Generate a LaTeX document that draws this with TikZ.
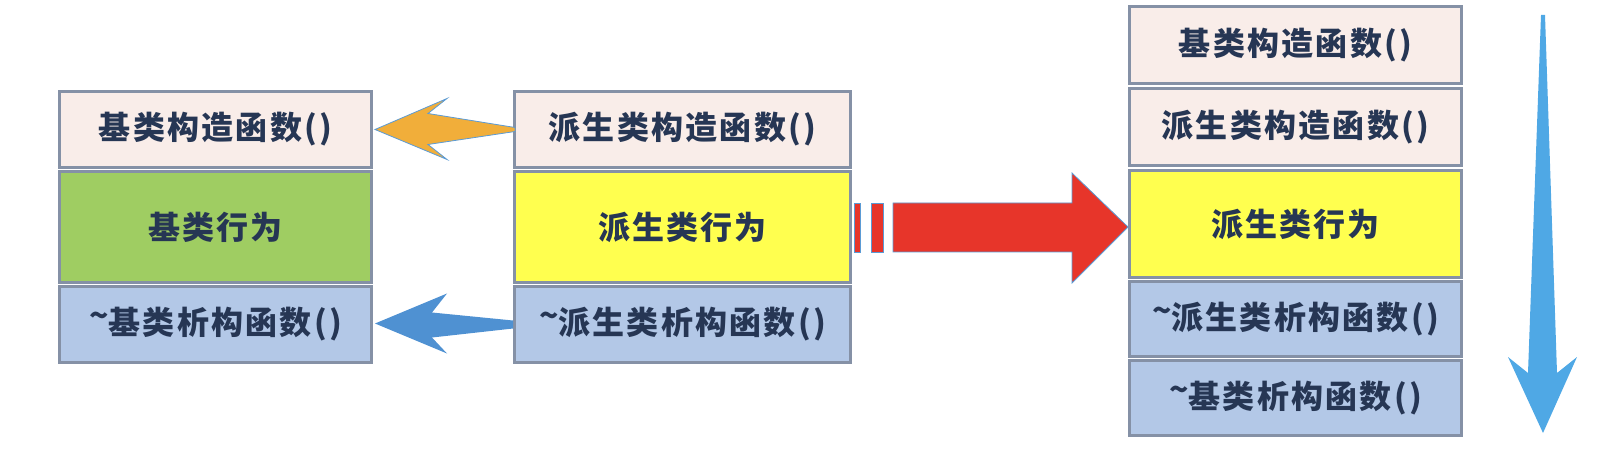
\documentclass[tikz,border=0pt]{standalone}
\usepackage{fontspec}
\newfontfamily\cjk{Noto Sans CJK SC}[LetterSpace=7]
\usetikzlibrary{calc}
\newcommand{\tld}{\raisebox{0.22em}{\char"7E}}
\definecolor{pinkf}{HTML}{F9EDE9}
\definecolor{greenf}{HTML}{9FCD62}
\definecolor{yellowf}{HTML}{FFFF4F}
\definecolor{bluef}{HTML}{B3C8E7}
\definecolor{bordc}{HTML}{8591A6}
\definecolor{txtc}{HTML}{263654}
\definecolor{orangea}{HTML}{F1AE3A}
\definecolor{bluea}{HTML}{4F91D2}
\definecolor{reda}{HTML}{E7352A}
\definecolor{downa}{HTML}{4FA8E5}
\definecolor{outl}{HTML}{5B9BD5}
\begin{document}
\begin{tikzpicture}[x=1pt,y=-1pt,
  cell/.style={rectangle,draw=bordc,line width=3pt,inner sep=0pt,
    font=\cjk\bfseries\fontsize{32}{38}\selectfont,text=txtc},
  pinkcell/.style={cell,fill=pinkf,minimum height=76pt},
  greencell/.style={cell,fill=greenf,minimum height=111pt},
  yellowcell/.style={cell,fill=yellowf,minimum height=111pt},
  bluecell/.style={cell,fill=bluef,minimum height=76pt},
  wl/.style={minimum width=312pt},
  wm/.style={minimum width=336pt},
  wr/.style={minimum width=332pt},
  blockarrow/.style={line width=0.8pt,draw=outl,line join=miter}
]
\useasboundingbox (0,0) rectangle (1609,454);
% left stack
\node[pinkcell,wl]  (lp) at (215.5,129.5) {基类构造函数()};
\node[greencell,wl] (lg) at (215.5,227)   {基类行为};
\node[bluecell,wl]  (lb) at (215.5,324.5) {\tld 基类析构函数()};
% middle stack
\node[pinkcell,wm]   (mp) at (682.5,129.5) {派生类构造函数()};
\node[yellowcell,wm] (my) at (682.5,227)   {派生类行为};
\node[bluecell,wm]   (mb) at (682.5,324.5) {\tld 派生类析构函数()};
% right stack
\node[pinkcell,wr,minimum height=77pt]   (rp1) at (1295.5,45)  {基类构造函数()};
\node[pinkcell,wr,minimum height=77pt]   (rp2) at (1295.5,127) {派生类构造函数()};
\node[yellowcell,wr,minimum height=107pt](ry)  at (1295.5,224) {派生类行为};
\node[bluecell,wr,minimum height=75pt]   (rb1) at (1295.5,319) {\tld 派生类析构函数()};
\node[bluecell,wr,minimum height=75pt]   (rb2) at (1295.5,398) {\tld 基类析构函数()};
% orange arrow: derived ctor -> base ctor
\draw[blockarrow,fill=orangea]
  ($(lp.east)+(2,0)$) -- ($(lp.east)+(74,-31)$) -- ($(lp.east)+(55,-16)$)
  -- ($(mp.west)+(2,-2)$) -- ($(mp.west)+(2,2)$)
  -- ($(lp.east)+(55,15)$) -- ($(lp.east)+(74,30)$) -- cycle;
% blue arrow: derived dtor -> base dtor
\fill[bluea]
  ($(lb.east)+(2,-1)$) -- ($(lb.east)+(74,-31)$) -- ($(lb.east)+(59,-12)$)
  -- ($(mb.west)+(0,-4)$) -- ($(mb.west)+(0,4)$)
  -- ($(lb.east)+(59,13)$) -- ($(lb.east)+(74,29)$) -- cycle;
% red arrow: middle -> right
\coordinate (rtip) at (ry.west |- my.east);
\draw[blockarrow,fill=reda] ($(my.east)+(2,-24)$) rectangle ($(my.east)+(8,25)$);
\draw[blockarrow,fill=reda] ($(my.east)+(19,-24)$) rectangle ($(my.east)+(31,25)$);
\draw[blockarrow,fill=reda]
  ($(my.east)+(41,-24)$) -- ($(rtip)+(-56,-24)$) -- ($(rtip)+(-56,-54)$)
  -- (rtip) -- ($(rtip)+(-56,56)$) -- ($(rtip)+(-56,25)$)
  -- ($(my.east)+(41,25)$) -- cycle;
% down arrow
\coordinate (dtop) at (1543,15);
\coordinate (dtip) at (1543,433);
\fill[downa]
  ($(dtop)+(-2,0)$) -- ($(dtop)+(2,0)$) -- ($(dtip)+(14,-60)$)
  -- ($(dtip)+(34,-76)$) -- (dtip) -- ($(dtip)+(-35,-76)$)
  -- ($(dtip)+(-15,-60)$) -- cycle;
\end{tikzpicture}
\end{document}
